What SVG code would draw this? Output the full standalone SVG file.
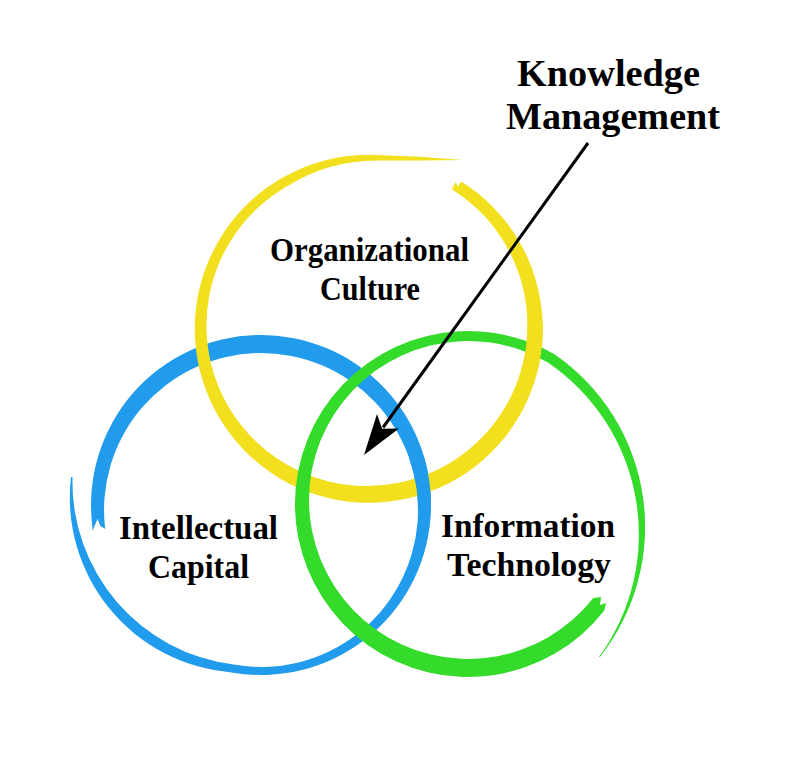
<svg xmlns="http://www.w3.org/2000/svg" width="800" height="779" viewBox="0 0 800 779">
  <style>
    .lbl { font-family: "Liberation Serif", "Times New Roman", serif; font-weight: bold; fill: #000; text-anchor: middle; }
    .title { font-size: 37px; }
    .node { font-size: 33px; }
    .blue { fill: #219BEB; }
    .yellow { fill: #F2E01F; }
    .green { fill: #34DB2A; }
  </style>
  <defs>
    <clipPath id="clip-yellow-over"><rect x="512" y="322" width="40" height="50"/></clipPath>
    <clipPath id="clip-blue-over"><rect x="402" y="458" width="40" height="52"/></clipPath>
  </defs>
  <rect width="800" height="779" fill="#ffffff"/>

  <g id="node-intellectual-capital">
    <path id="ring-blue" class="blue" d="M71,477 A175.5,175.5 0 0 0 231.5,672.4 A170,170 0 1 0 92.3,525.7 L92.5,531 L97.5,519 L100.5,526 L105.2,529.1 A157,157 0 1 1 233.7,664.6 A184,184 0 0 1 72.5,477 Z"/>
    <text class="lbl node" x="198.5" y="539" textLength="159" lengthAdjust="spacingAndGlyphs">Intellectual</text>
    <text class="lbl node" x="198.5" y="578" textLength="101" lengthAdjust="spacingAndGlyphs">Capital</text>
  </g>

  <g id="node-organizational-culture">
    <path id="ring-yellow" class="yellow" d="M461.2,181.4 A174,174 0 1 1 377,155 Q420,156 463,160 Q425,160.5 377,160.5 A170,170 0 0 0 286.75,186.5 A160.5,160.5 0 1 0 452,189.4 L455.5,182 L458,186.5 Z"/>
    <text class="lbl node" x="369.5" y="261" textLength="199" lengthAdjust="spacingAndGlyphs">Organizational</text>
    <text class="lbl node" x="370" y="300" textLength="100" lengthAdjust="spacingAndGlyphs">Culture</text>
  </g>

  <g id="node-information-technology">
    <path id="ring-green" class="green" d="M600,657 A210,210 0 0 0 554.5,354.2 A173,173 0 1 0 604.3,610.5 L606,603 L600,605 L601,597 L593.3,597.9 A159,159 0 1 1 547.5,362.3 A208,208 0 0 1 599,657 Z"/>
    <text class="lbl node" x="528" y="537" textLength="174" lengthAdjust="spacingAndGlyphs">Information</text>
    <text class="lbl node" x="529" y="576" textLength="164" lengthAdjust="spacingAndGlyphs">Technology</text>
  </g>

  <g id="ring-crossings">
    <use href="#ring-yellow" clip-path="url(#clip-yellow-over)"/>
    <use href="#ring-blue" clip-path="url(#clip-blue-over)"/>
  </g>

  <g id="node-knowledge-management">
    <text class="lbl title" x="608.5" y="86" textLength="183" lengthAdjust="spacingAndGlyphs">Knowledge</text>
    <text class="lbl title" x="613" y="129" textLength="214" lengthAdjust="spacingAndGlyphs">Management</text>
  </g>

  <g id="connectors">
    <line x1="588" y1="143" x2="383" y2="427.5" stroke="#000" stroke-width="3"/>
    <polygon points="364,455 377,414 382.1,428.8 399,428.5" fill="#000"/>
  </g>
</svg>
